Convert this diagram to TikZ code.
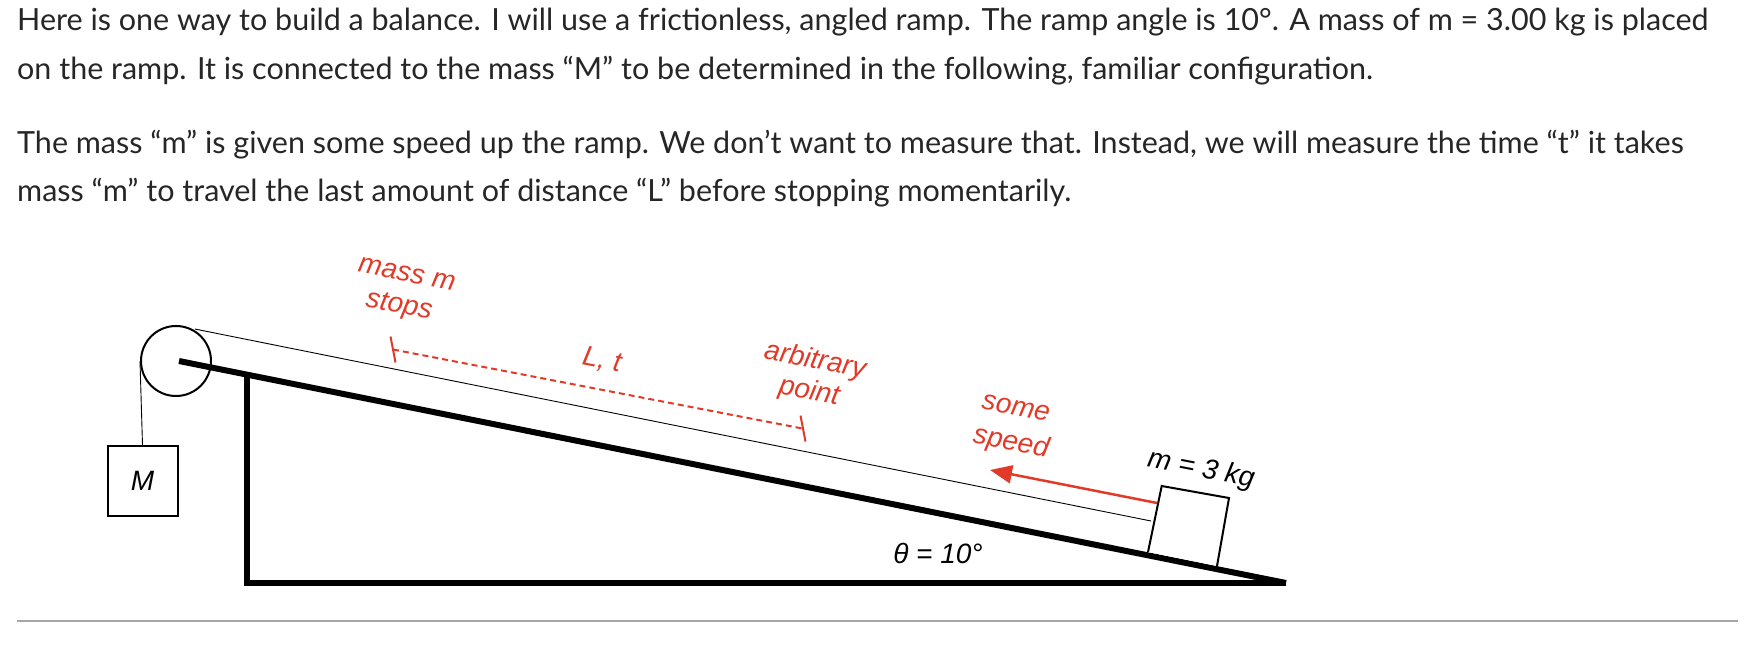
\documentclass[tikz,border=0pt]{standalone}
\usepackage{fontspec}
\setmainfont{Lato}
\newfontfamily\diag{Liberation Sans}
\usetikzlibrary{arrows.meta,calc}
\definecolor{redc}{RGB}{226,58,40}
\begin{document}
\begin{tikzpicture}[x=1pt,y=-1pt,
  hdr/.style={anchor=base west,inner sep=0,font=\fontsize{30.5}{34}\selectfont,text=black!85},
  lbl/.style={font=\diag\fontsize{28}{30}\selectfont\itshape,text=redc,inner sep=0,rotate=-11},
  blbl/.style={font=\diag\fontsize{28}{30}\selectfont\itshape,inner sep=0}]
\useasboundingbox (0,0) rectangle (1760,650);
\node[hdr] (h1) at (17,31) {Here is one way to build a balance. I will use a frictionless, angled ramp. The ramp angle is 10°. A mass of m = 3.00 kg is placed};
\node[hdr] (h2) at (17,80) {on the ramp. It is connected to the mass “M” to be determined in the following, familiar configuration.};
\node[hdr] (h3) at (17,153) {The mass “m” is given some speed up the ramp. We don’t want to measure that. Instead, we will measure the time “t” it takes};
\node[hdr] (h4) at (17,201) {mass “m” to travel the last amount of distance “L” before stopping momentarily.};
% ramp
\coordinate (rt) at (179,361);
\coordinate (tip) at (1286,583);
\coordinate (pt) at (246.5,375);
\coordinate (pb) at (246.5,583);
\draw[line width=6pt,line join=miter] (pt) -- (pb) -- (tip);
\draw[line width=6pt] (rt) -- (tip);
% pulley
\node[draw,circle,minimum size=70pt,line width=2pt,inner sep=0] (pul) at (176,361) {};
% block m
\draw[line width=2pt,fill=white] (1148,552) -- (1161.7,486) -- (1229,498) -- (1217,566);
\coordinate (blk) at (1151,521);
\draw[line width=0.9pt] (194.8,329) -- (blk);
% M
\node[draw,line width=2pt,minimum width=70pt,minimum height=70pt,inner sep=0,font=\diag\fontsize{28}{30}\selectfont\itshape] (M) at (142.5,481) {M};
\draw[line width=0.9pt] (pul.west) -- (M.north);
% dashed
\coordinate (d1) at (393,349.5);
\coordinate (d2) at (803,428.6);
\draw[redc,line width=2pt,dash pattern=on 6pt off 4pt] (d1) -- (d2);
\draw[redc,line width=2pt] ($(d1)+(-2.5,-13)$) -- ($(d1)+(2.5,13)$);
\draw[redc,line width=2pt] ($(d2)+(-2.5,-13)$) -- ($(d2)+(2.5,13)$);
% arrow
\coordinate (a1) at (1157,503);
\coordinate (a2) at (990,470);
\draw[redc,line width=2.5pt,-{Triangle[length=22pt,width=18pt]}] (a1) -- (a2);
% labels
\node[lbl] (l1) at (407,274) {mass m};
\node[lbl] (l2) at (399,307) {stops};
\node[lbl] (l3) at (602,361) {L, t};
\node[lbl] (l4) at (815,361) {arbitrary};
\node[lbl] (l5) at (809,392) {point};
\node[lbl] (l6) at (1016,408) {some};
\node[lbl] (l7) at (1011,443) {speed};
\node[blbl,rotate=-11] (l8) at (1201,470) {m = 3 kg};
\node[blbl] (l9) at (938,553) {θ = 10°};
% separator
\draw[black!35,line width=1.2pt] (17,621) -- (1738,621);
\end{tikzpicture}
\end{document}
